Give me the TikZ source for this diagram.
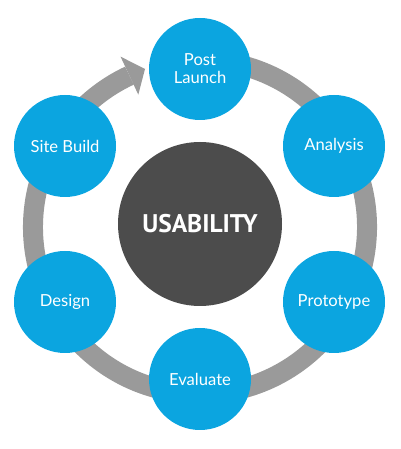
\documentclass[tikz,border=0pt]{standalone}
\usepackage{fontspec}
\setmainfont{Lato}
\newfontfamily\hubfont{PT Sans}
\usetikzlibrary{calc}
\definecolor{cblue}{HTML}{0BA5E0}
\definecolor{cdark}{HTML}{4C4C4C}
\definecolor{cring}{HTML}{9A9A9A}
\begin{document}
\begin{tikzpicture}[x=1pt,y=1pt,
  stage/.style={circle,fill=cblue,minimum size=102pt,inner sep=0pt,text=white,
    align=center,font=\fontsize{16.6}{18}\selectfont},
  hub/.style={circle,fill=cdark,minimum size=164pt,inner sep=0pt,text=white,
    font=\hubfont\fontsize{25.5}{28}\selectfont\bfseries}]
\useasboundingbox (0,0) rectangle (400,449);
\coordinate (C) at (200,222);
% ring
\draw[cring,line width=20pt] ($(C)+(80:167)$) arc[start angle=80,end angle=-245,radius=167pt];
\coordinate (b1) at ($(C)+(115:146)$);
\coordinate (b2) at ($(C)+(115:188)$);
\coordinate (tip) at (145,380);
\fill[cring] (b1) -- (b2) -- (tip) -- cycle;
% nodes
\node[hub] (hub) at (200,225) {USABILITY};
\node[stage] (post) at (200,380) {Post\\Launch};
\node[stage] (ana) at (334,303) {Analysis};
\node[stage] (proto) at (334,147) {Prototype};
\node[stage] (eval) at (200,70) {Evaluate};
\node[stage] (des) at (65,147) {Design};
\node[stage] (site) at (65,303) {Site Build};
\end{tikzpicture}
\end{document}
